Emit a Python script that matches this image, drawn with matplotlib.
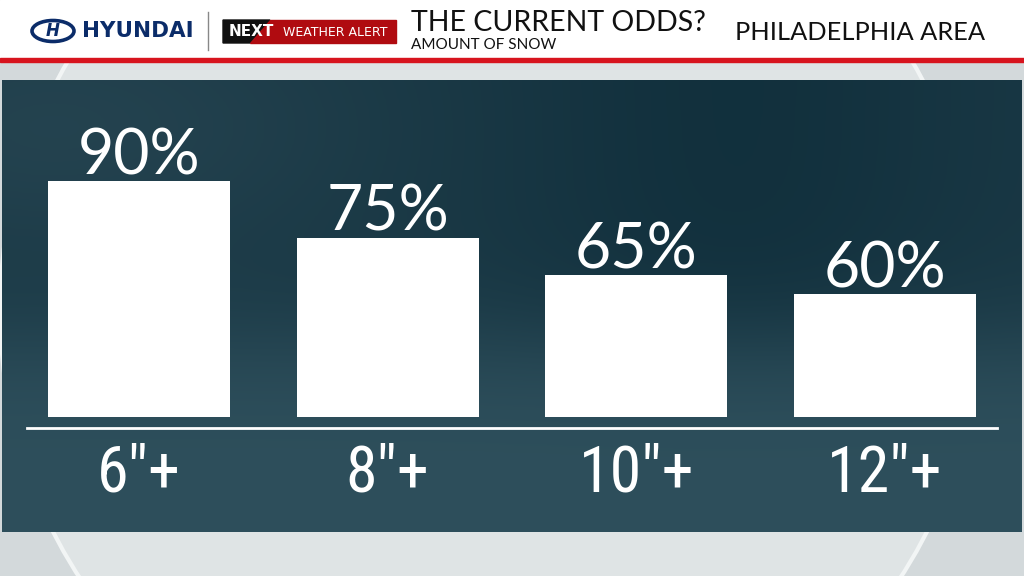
import numpy as np
import matplotlib
matplotlib.use("Agg")
import matplotlib.pyplot as plt
from matplotlib import font_manager
from matplotlib.patches import Rectangle, Polygon, Ellipse, Circle
from matplotlib.lines import Line2D

# chart data
categories = ['6"+', '8"+', '10"+', '12"+']
odds = [90, 75, 65, 60]
pct_labels = ["90%", "75%", "65%", "60%"]

title = "THE CURRENT ODDS?"
subtitle = "AMOUNT OF SNOW"
area = "PHILADELPHIA AREA"

# pick a narrow face for the category labels if one is around
installed = {f.name for f in font_manager.fontManager.ttflist}
narrow = "DejaVu Sans"
for cand in ["Liberation Sans Narrow", "Roboto Condensed", "DejaVu Sans Condensed",
             "Noto Sans Condensed", "Open Sans Condensed"]:
    if cand in installed:
        narrow = cand
        break

W, H = 1024, 576
fig = plt.figure(figsize=(W / 100, H / 100), dpi=100)

# background / decoration layer in pixel coords
bg = fig.add_axes([0, 0, 1, 1])
bg.set_xlim(0, W)
bg.set_ylim(H, 0)
bg.axis("off")

bg.add_patch(Rectangle((0, 0), W, H, color="#d3d9db", zorder=0))
bg.add_patch(Circle((490, 310), 490, facecolor="#dfe4e5", edgecolor="#f2f5f5", lw=3, zorder=1))

# teal panel with soft gradient
yy, xx = np.mgrid[0:1:200j, 0:1:300j]
top = np.array([0.10, 0.22, 0.27])
bottom = np.array([0.18, 0.31, 0.36])
mix = 1 / (1 + np.exp(-(yy - 0.58) * 14))
glow = 0.04 * np.exp(-((xx - 0.05) ** 2 + (yy - 0.1) ** 2) / 0.08)
img = top[None, None, :] * (1 - mix[..., None]) + bottom[None, None, :] * mix[..., None]
img = img - 0.03 * np.exp(-((xx - 0.72) ** 2) / 0.05)[..., None] * (1 - mix[..., None]) + glow[..., None]
bg.imshow(np.clip(img, 0, 1), extent=(2, 1022, 532, 80), aspect="auto", zorder=2)

# header
bg.add_patch(Rectangle((0, 0), W, 58, color="white", zorder=3))
bg.add_patch(Rectangle((0, 58), W, 4, color="#d7141e", zorder=3))

navy = "#0b2c69"
bg.add_patch(Ellipse((53, 31), 42, 21, fill=False, edgecolor=navy, lw=2.6, zorder=4))
bg.text(53, 31.5, "H", color=navy, fontsize=12, fontweight="bold", fontstyle="italic",
        ha="center", va="center", zorder=5)
bg.text(82, 31, "HYUNDAI", color=navy, fontsize=15.5, fontweight="bold",
        ha="left", va="center", zorder=5)
bg.add_line(Line2D([208, 208], [12, 50], color="#888888", lw=1, zorder=4))

bg.add_patch(Polygon([(223, 20), (270, 20), (250, 43), (223, 43)], color="#111111", zorder=4))
bg.add_patch(Polygon([(270, 20), (396, 20), (396, 43), (250, 43)], color="#b00b10", zorder=4))
bg.text(229, 32, "NEXT", color="white", fontsize=11, fontweight="bold",
        ha="left", va="center", zorder=5)
bg.text(283, 32, "WEATHER ALERT", color="white", fontsize=9,
        ha="left", va="center", zorder=5)

hdr_font = ["Lato", "DejaVu Sans"]
bg.text(411, 31, title, color="#111111", fontsize=20.5, family=hdr_font,
        ha="left", va="baseline", zorder=5)
bg.text(411, 49, subtitle, color="#111111", fontsize=11, family=hdr_font,
        ha="left", va="baseline", zorder=5)
bg.text(735, 40, area, color="#111111", fontsize=18.3, family=hdr_font,
        ha="left", va="baseline", zorder=5)

# bar axes: x=0 at px 139, x=3 at px 885; y=27.5 at px 417, scale 3.776 px per point
x_lo, x_hi = -0.5, 3.5
y_lo, y_hi = 27.5, 115
px_per_x = (885 - 139) / 3
left_px = 139 + x_lo * px_per_x
right_px = 139 + x_hi * px_per_x
bot_px = 417
top_px = 417 - (y_hi - y_lo) * 3.776
ax = fig.add_axes([left_px / W, 1 - bot_px / H, (right_px - left_px) / W, (bot_px - top_px) / H])
ax.patch.set_alpha(0)
ax.set_xlim(x_lo, x_hi)
ax.set_ylim(y_lo, y_hi)
ax.axis("off")

x = np.arange(len(categories))
ax.bar(x, odds, width=182 / px_per_x, color="white", zorder=3)

for xi, v, lab in zip(x, odds, pct_labels):
    ax.annotate(lab, (xi, v), xytext=(0, 5), textcoords="offset points",
                ha="center", va="baseline", color="white", fontsize=45,
                family=["Lato", "DejaVu Sans"], annotation_clip=False)

trans = matplotlib.transforms.blended_transform_factory(ax.transData, fig.transFigure)
for xi, cat in zip(x, categories):
    ax.text(xi, 1 - 492 / H, cat, transform=trans, ha="center", va="baseline",
            color="white", fontsize=46, family=[narrow, "DejaVu Sans"],
            fontstretch="condensed", clip_on=False)

# baseline rule
fig.add_artist(Line2D([27 / W, 997 / W], [1 - 428 / H, 1 - 428 / H], color="white", lw=2,
                      transform=fig.transFigure))

fig.savefig("out.png", dpi=100)
